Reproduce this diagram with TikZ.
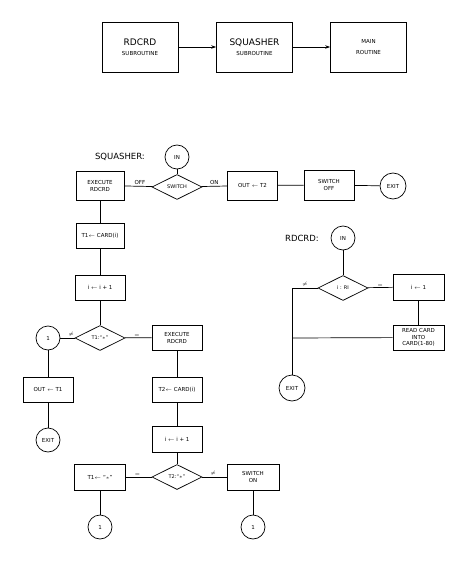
\documentclass[tikz,border=0pt]{standalone}
\usepackage{fontspec}
\setmainfont{DejaVu Sans}
\usetikzlibrary{shapes.geometric,arrows.meta}
\begin{document}
\begin{tikzpicture}[x=1pt,y=-1pt,
  ln/.style={line width=0.7pt},
  topbox/.style={draw, line width=0.7pt, minimum width=76pt, minimum height=50pt, inner sep=1pt, align=center, font=\fontsize{5.5}{7}\selectfont},
  box/.style={draw, line width=0.7pt, minimum width=50pt, minimum height=26pt, inner sep=1pt, align=center, font=\fontsize{5.5}{7}\selectfont},
  dia/.style={draw, line width=0.7pt, diamond, aspect=2, minimum width=50pt, minimum height=25pt, inner sep=0pt, font=\fontsize{5}{6}\selectfont},
  circ/.style={draw, line width=0.7pt, circle, minimum size=24pt, inner sep=0pt, font=\fontsize{5.5}{6}\selectfont},
  lab/.style={inner sep=1pt, font=\fontsize{5.5}{6}\selectfont},
  title/.style={inner sep=1pt, font=\fontsize{8.5}{9}\selectfont}]
\path[use as bounding box, fill=white] (0,0) rectangle (474,561);

% top row
\node[topbox] (rd) at (140,47) {{\fontsize{9}{11}\selectfont RDCRD}\\[3pt] SUBROUTINE};
\node[topbox] (sq) at (254.5,47) {{\fontsize{9}{11}\selectfont SQUASHER}\\[3pt] SUBROUTINE};
\node[topbox] (mn) at (368.5,47) {MAIN\\[4pt] ROUTINE};
\draw[ln,-{Stealth[length=5pt,width=3.5pt]}] (rd) -- (sq);
\draw[ln,-{Stealth[length=5pt,width=3.5pt]}] (sq) -- (mn);

% SQUASHER
\node[title, anchor=east] (sqlab) at (146,157) {SQUASHER:};
\node[circ] (sin) at (177,157) {IN};
\node[dia] (sw) at (177,187) {SWITCH};
\node[box, minimum width=48pt, minimum height=29pt] (ex1) at (100,185.5) {EXECUTE\\RDCRD};
\node[box, minimum height=29pt] (o2) at (252.5,185.5) {OUT $\leftarrow$ T2};
\node[box, minimum height=30pt] (soff) at (329,185) {SWITCH\\OFF};
\node[circ, minimum size=26pt] (exit1) at (393,186) {EXIT};
\draw[ln] (sin) -- (sw);
\draw[ln] (sw) -- node[lab, above, pos=0.45] {OFF} (ex1);
\draw[ln] (sw) -- node[lab, above, pos=0.5] {ON} (o2);
\draw[ln] (o2) -- (soff);
\draw[ln] (soff) -- (exit1);

\node[box, minimum width=48pt, minimum height=25pt] (t1c) at (100,236) {T1$\leftarrow$ CARD(i)};
\node[box, minimum height=25pt] (inc1) at (100,287.5) {i $\leftarrow$ i + 1};
\node[dia] (d1) at (100,338) {T1:``$*$''};
\node[circ] (c1) at (48,338) {1};
\node[box, minimum height=25pt] (ex2) at (177,337.5) {EXECUTE\\RDCRD};
\draw[ln] (ex1) -- (t1c);
\draw[ln] (t1c) -- (inc1);
\draw[ln] (inc1) -- (d1);
\draw[ln] (d1) -- node[lab, above, pos=0.25] {$\neq$} (c1);
\draw[ln] (d1) -- node[lab, above, pos=0.45] {$=$} (ex2);

\node[box, minimum height=25pt] (o1) at (48,389.5) {OUT $\leftarrow$ T1};
\node[circ] (exit2) at (48,440) {EXIT};
\draw[ln] (c1) -- (o1);
\draw[ln] (o1) -- (exit2);

\node[box, minimum height=25pt] (t2c) at (177,389.5) {T2$\leftarrow$ CARD(i)};
\node[box, minimum height=26pt] (inc2) at (177,439) {i $\leftarrow$ i + 1};
\node[dia] (d2) at (177,477) {T2:``$*$''};
\node[box, minimum width=51pt, minimum height=26pt] (t1s) at (100,477) {T1$\leftarrow$ ``$*$''};
\node[box, minimum width=52pt, minimum height=26pt] (son) at (253,477) {SWITCH\\ON};
\node[circ] (c2) at (100,527) {1};
\node[circ] (c3) at (253,527) {1};
\draw[ln] (ex2) -- (t2c);
\draw[ln] (t2c) -- (inc2);
\draw[ln] (inc2) -- (d2);
\draw[ln] (d2) -- node[lab, above, pos=0.55] {$=$} (t1s);
\draw[ln] (d2) -- node[lab, above, pos=0.45] {$\neq$} (son);
\draw[ln] (t1s) -- (c2);
\draw[ln] (son) -- (c3);

% RDCRD
\node[title, anchor=east] (rdlab) at (320,238) {RDCRD:};
\node[circ] (rin) at (343,238) {IN};
\node[dia] (d3) at (343,288) {i : RI};
\node[box, minimum width=51pt, minimum height=26pt] (i1) at (418.5,287) {i $\leftarrow$ 1};
\node[box, minimum width=51pt, minimum height=25pt, font=\fontsize{5.5}{6.8}\selectfont] (rc) at (418.5,337.5) {READ CARD\\INTO\\CARD(1-80)};
\node[circ, minimum size=26pt] (rexit) at (292,388) {EXIT};
\coordinate (rcorner) at (292,288);
\coordinate (rjoin) at (292,338);
\draw[ln] (rin) -- (d3);
\draw[ln] (d3) -- node[lab, above, pos=0.5] {$=$} (i1);
\draw[ln] (i1) -- (rc);
\draw[ln] (d3) -- node[lab, above, pos=0.5] {$\neq$} (rcorner) -- (rexit);
\draw[ln] (rc) -- (rjoin);
\end{tikzpicture}
\end{document}
